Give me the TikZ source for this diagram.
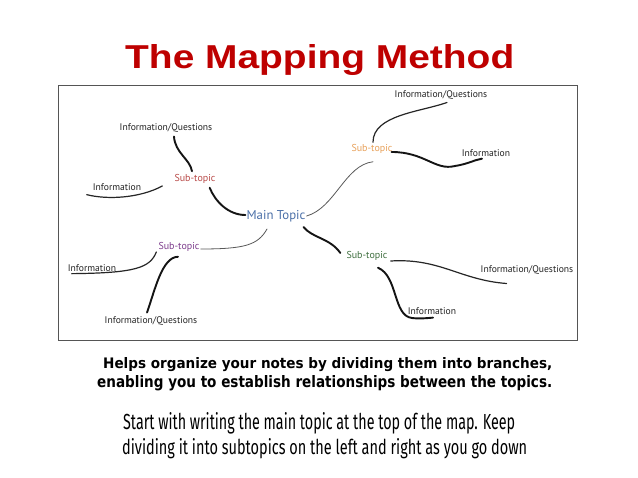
\documentclass[tikz,border=0pt]{standalone}
\usepackage{fontspec}
\usetikzlibrary{calc}
\newfontfamily\lblfont{PT Sans}
\newfontfamily\ttlfont{Liberation Sans}
\newfontfamily\cmcfont{DejaVu Sans}
\newfontfamily\nrwfont{Fira Sans}
\definecolor{ttlred}{HTML}{BE0000}
\definecolor{subred}{HTML}{B94A48}
\definecolor{suborange}{HTML}{E8A15A}
\definecolor{subpurple}{HTML}{7D3C8C}
\definecolor{subgreen}{HTML}{3F6F3F}
\definecolor{mainblue}{HTML}{4A6FA8}
\definecolor{lbltext}{HTML}{222222}
\definecolor{framegray}{HTML}{555555}
\begin{document}
\begin{tikzpicture}[x=1pt,y=-1pt,
  lbl/.style={font=\lblfont\fontsize{9.6}{11}\selectfont, text=lbltext, inner sep=1pt},
  sub/.style={font=\lblfont\fontsize{10}{11}\selectfont, inner sep=1pt},
  thickln/.style={line width=1.9pt, draw=black!92, line cap=round},
  midln/.style={line width=1.2pt, draw=black!85, line cap=round},
  thinln/.style={line width=0.8pt, draw=black!65, line cap=round},
  txt/.style={inner sep=0pt, anchor=base west}]
\useasboundingbox (0,0) rectangle (638,478);
\fill[white] (0,0) rectangle (638,478);
% title
\node[txt, text=ttlred] (title) at (125,69) {\resizebox{389pt}{24pt}{\ttlfont\bfseries The Mapping Method}};
% frame
\draw[framegray, line width=1pt] (58,86) rectangle (577,341);
% nodes
\node[sub, text=mainblue, font=\lblfont\fontsize{12.8}{14}\selectfont] (main) at (276,216) {Main Topic};
\node[sub, text=subred] (sR) at (195,179) {Sub-topic};
\node[sub, text=suborange] (sO) at (372,149) {Sub-topic};
\node[sub, text=subpurple] (sP) at (179,247) {Sub-topic};
\node[sub, text=subgreen] (sG) at (367,256) {Sub-topic};
\node[lbl] (iqR) at (166,128) {Information/Questions};
\node[lbl] (iR) at (117,187) {Information};
\node[lbl] (iqO) at (441,95) {Information/Questions};
\node[lbl] (iO) at (486,153) {Information};
\node[lbl] (iP) at (92,268) {Information};
\node[lbl] (iqP) at (151,321) {Information/Questions};
\node[lbl] (iqG) at (527,270) {Information/Questions};
\node[lbl] (iG) at (432,311) {Information};
% connectors
\draw[thickln] ($(iqR.south)+(8,3)$) .. controls (175,153) and (190,159) .. ($(sR.north)+(-3,-2)$);
\draw[midln] ($(iR.south west)+(-5,3)$) .. controls (108,200) and (140,198) .. ($(sR.west)+(-11,7)$);
\draw[thickln] ($(sR.south east)+(-7,3)$) .. controls (215,201) and (228,215) .. ($(main.west)+(0,-1)$);
\draw[thinln] ($(main.east)+(0,0)$) .. controls (335,208) and (345,165) .. ($(sO.south)+(1,7)$);
\draw[midln] ($(sO.north)+(1,-1)$) .. controls (373,115) and (420,112) .. ($(iqO.south)+(6,2)$);
\draw[thickln] ($(sO.east)+(-2,3)$) .. controls (425,152) and (435,171) .. (455,166) .. controls (468,164) and (474,160) .. ($(iO.south)+(-4,1)$);
\draw[thinln] ($(main.south)+(-9,6)$) .. controls (258,245) and (245,249) .. ($(sP.east)+(0,2)$);
\draw[midln] ($(iP.south west)+(5,1)$) .. controls (135,273) and (150,268) .. ($(sP.west)+(-1,5)$);
\draw[thickln] ($(sP.south)+(-1,4)$) .. controls (162,257) and (155,290) .. ($(iqP.north)+(-4,-3)$);
\draw[thickln] ($(main.south east)+(-3,4)$) .. controls (312,238) and (330,238) .. ($(sG.west)+(-5,-3)$);
\draw[midln] ($(sG.east)+(2,5)$) .. controls (440,258) and (460,280) .. ($(iqG.south west)+(27,8)$);
\draw[thickln] ($(sG.south)+(11,6)$) .. controls (398,276) and (393,316) .. (412,318) .. controls (420,319) and (428,318) .. ($(iG.south)+(1,2)$);
% captions
\node[txt] (cap1) at (103,369) {\resizebox{449pt}{11pt}{\cmcfont\bfseries Helps organize your notes by dividing them into branches,}};
\node[txt] (cap2) at (97,388) {\resizebox{455pt}{12pt}{\cmcfont\bfseries enabling you to establish relationships between the topics.}};
\node[txt] (cap3) at (123,430) {\resizebox{392pt}{17pt}{\nrwfont Start with writing the main topic at the top of the map. Keep}};
\node[txt] (cap4) at (122,455) {\resizebox{405pt}{16pt}{\nrwfont dividing it into subtopics on the left and right as you go down}};
\end{tikzpicture}
\end{document}
